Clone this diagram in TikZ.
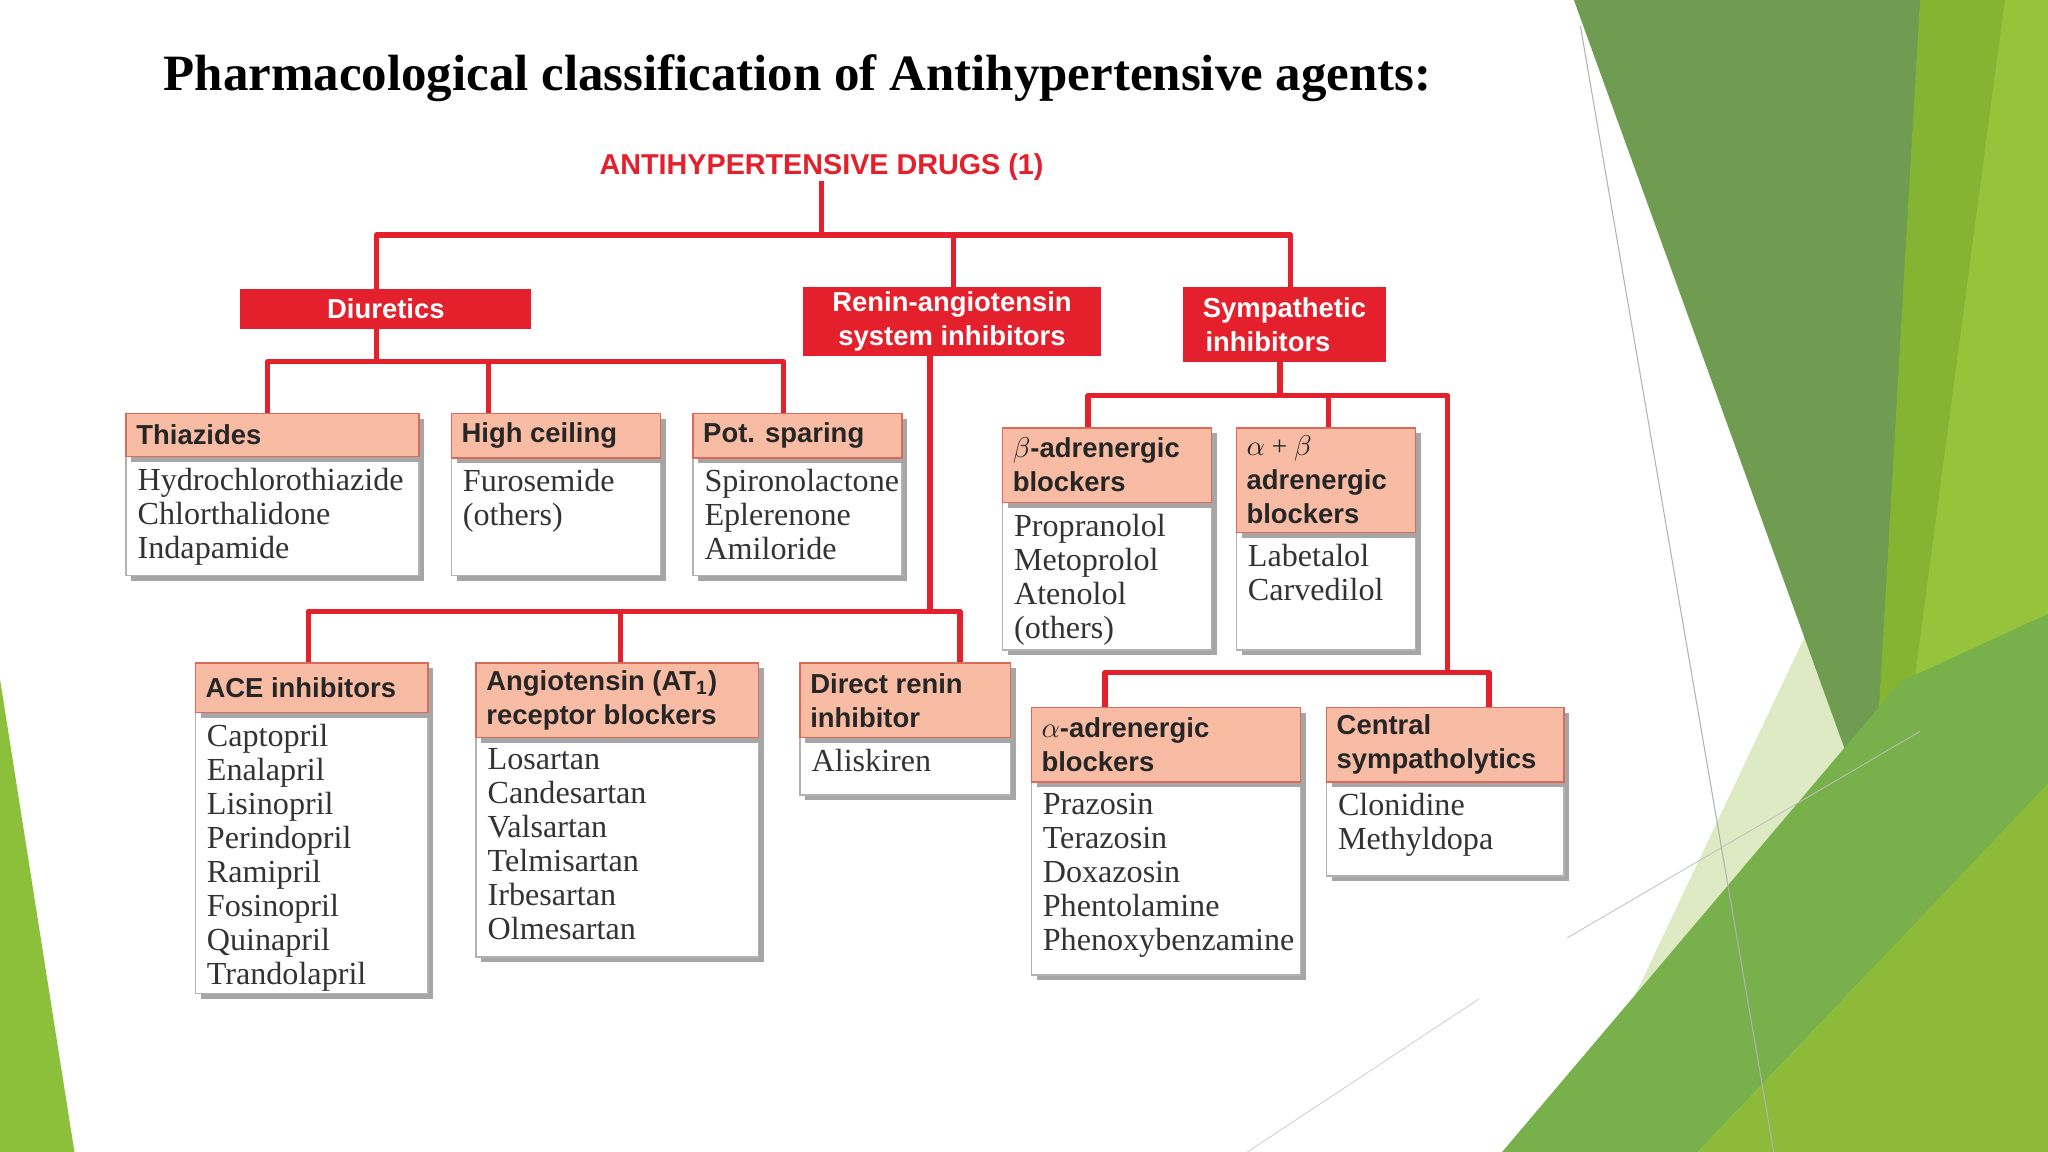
\documentclass[tikz,border=0pt]{standalone}
\usepackage{fontspec}
\setmainfont{Liberation Serif}
\setsansfont{Liberation Sans}
\usetikzlibrary{shadows}
\definecolor{dred}{HTML}{E3202C}
\definecolor{hfill}{HTML}{F8BCA4}
\definecolor{hline}{HTML}{DC6A5A}
\definecolor{gdark}{HTML}{6F9C50}
\definecolor{gmid}{HTML}{84B432}
\definecolor{glime}{HTML}{95C43C}
\definecolor{gband}{HTML}{78B04C}
\definecolor{gpale}{HTML}{DDEAC4}
\definecolor{gleft}{HTML}{8CBF3A}
\tikzset{
  conn/.style={draw=dred,line width=2pt,line join=round},
  redbox/.style={fill=dred,draw=dred,text=white,font=\sffamily\bfseries\fontsize{10.5}{13}\selectfont,align=center,inner sep=0pt},
  hdrbox/.style={fill=hfill,draw=hline,line width=0.6pt,inner sep=0pt,drop shadow={shadow xshift=2pt,shadow yshift=-2pt,fill=gray!70,opacity=1}},
  bodybox/.style={fill=white,draw=gray!60,line width=0.6pt,inner sep=0pt,drop shadow={shadow xshift=2pt,shadow yshift=-2pt,fill=gray!70,opacity=1}},
  hdrtext/.style={font=\sffamily\bfseries\fontsize{10.5}{13}\selectfont,align=left,inner xsep=4pt,inner ysep=0pt,text=black!85},
  bodytext/.style={font=\fontsize{12.3}{13}\selectfont,align=left,inner sep=0pt,text=black!80}
}
\newcommand\mybox[8]{%
  \pgfmathsetmacro\bw{(#3-#2)/2}\pgfmathsetmacro\hh{(#5-#4)/2}\pgfmathsetmacro\bh{(#6-#5)/2}%
  \node[bodybox,minimum width=\bw pt,minimum height=\bh pt,anchor=north west] (#1b) at (#2,#5) {};
  \node[hdrbox,minimum width=\bw pt,minimum height=\hh pt,anchor=north west] (#1) at (#2,#4) {};
  \node[hdrtext,anchor=west] (#1t) at (#1.west) {#7};
  \node[bodytext,anchor=north west] (#1l) at ([xshift=4.5pt,yshift=-4.5pt]#1b.north west) {#8};
}
\begin{document}
\begin{tikzpicture}[x=0.5pt,y=-0.5pt]
\useasboundingbox (0,0) rectangle (1568,882);
\fill[white] (0,0) rectangle (1568,882);
% background decoration
\fill[gleft] (0,520) -- (57,882) -- (0,882) -- cycle;
\fill[gpale] (1195,882) -- (1390,470) -- (1450,640) -- (1568,460) -- (1568,882) -- cycle;
\fill[gdark] (1205,0) -- (1478,0) -- (1440,650) -- cycle;
\fill[gmid] (1470,0) -- (1568,0) -- (1568,500) -- (1430,690) -- cycle;
\fill[glime] (1535,0) -- (1568,0) -- (1568,882) -- (1400,882) -- (1450,640) -- cycle;
\fill[gband] (1150,882) -- (1455,522) -- (1568,470) -- (1568,600) -- (1300,882) -- cycle;
\fill[glime!95!black] (1300,882) -- (1568,600) -- (1568,882) -- cycle;
\draw[gray!60,line width=0.4pt] (1210,20) -- (1358,882);
\draw[gray!50,line width=0.3pt] (1200,718) -- (1470,560);
\draw[gray!40,line width=0.3pt] (955,882) -- (1132,765);
% title
\node[font=\bfseries\fontsize{19.5}{22}\selectfont,anchor=west,inner sep=0pt] (title) at (125,60) {Pharmacological classification of Antihypertensive agents:};
\node[font=\sffamily\bfseries\fontsize{11}{13}\selectfont,text=dred,inner sep=0pt] (root) at (629,128) {ANTIHYPERTENSIVE DRUGS (1)};
% level 1
\node[redbox,minimum width=111pt,minimum height=15pt,anchor=north west] (diu) at (184,221) {Diuretics};
\node[redbox,minimum width=113.5pt,minimum height=26pt,anchor=north west] (ras) at (615,220) {Renin-angiotensin\\system inhibitors};
\node[redbox,minimum width=77pt,minimum height=28pt,anchor=north west] (sym) at (906,220) {Sympathetic\\inhibitors\hspace*{1.2em}};
% level 2 boxes
\mybox{thz}{96}{320}{316}{349}{440}{Thiazides}{Hydrochlorothiazide\\Chlorthalidone\\Indapamide}
\mybox{hc}{345}{505}{316}{350}{440}{High ceiling}{Furosemide\\(others)}
\mybox{ps}{530}{690}{316}{350}{440}{Pot. sparing}{Spironolactone\\Eplerenone\\Amiloride}
\mybox{ace}{149}{327}{507}{545}{760}{ACE inhibitors}{Captopril\\Enalapril\\Lisinopril\\Perindopril\\Ramipril\\Fosinopril\\Quinapril\\Trandolapril}
\mybox{arb}{364}{580}{507}{564}{732}{Angiotensin (AT\textsubscript{1})\\receptor blockers}{Losartan\\Candesartan\\Valsartan\\Telmisartan\\Irbesartan\\Olmesartan}
\mybox{dri}{612}{773}{507}{564}{608}{Direct renin\\inhibitor}{Aliskiren}
\mybox{bb}{767}{927}{327}{384}{497}{{\rmfamily\mdseries$\beta$}-adrenergic\\blockers}{Propranolol\\Metoprolol\\Atenolol\\(others)}
\mybox{ab}{946}{1083}{327}{407}{497}{{\rmfamily\mdseries$\alpha$ + $\beta$}\\adrenergic\\blockers}{Labetalol\\Carvedilol}
\mybox{alb}{789}{995}{541}{598}{746}{{\rmfamily\mdseries$\alpha$}-adrenergic\\blockers}{Prazosin\\Terazosin\\Doxazosin\\Phentolamine\\Phenoxybenzamine}
\mybox{cs}{1015}{1197}{541}{598}{670}{Central\\sympatholytics}{Clonidine\\Methyldopa}
% connectors
\coordinate (hub) at (root.south |- 0,180);
\draw[conn] (root.south) -- (hub);
\draw[conn] (diu.north -| 288,0) -- (288,180) -- (988,180) -- (sym.north -| 988,0);
\draw[conn] (ras.north -| 730,0) -- (730,180);
\draw[conn] (diu.south -| 288,0) -- (288,277);
\draw[conn] (thz.north -| 205,0) -- (205,277) -- (600,277) -- (ps.north -| 600,0);
\draw[conn] (hc.north -| 374,0) -- (374,277);
\draw[conn] (ras.south -| 712,0) -- (712,468) -- (735,468) -- (dri.north -| 735,0);
\draw[conn] (ace.north -| 236,0) -- (236,468) -- (712,468);
\draw[conn] (arb.north -| 475,0) -- (475,468);
\draw[conn] (sym.south -| 980,0) -- (980,303);
\draw[conn] (bb.north -| 833,0) -- (833,303) -- (1108,303) -- (1108,515);
\draw[conn] (ab.north -| 1017,0) -- (1017,303);
\draw[conn] (alb.north -| 846,0) -- (846,515) -- (1140,515) -- (cs.north -| 1140,0);
\end{tikzpicture}
\end{document}
